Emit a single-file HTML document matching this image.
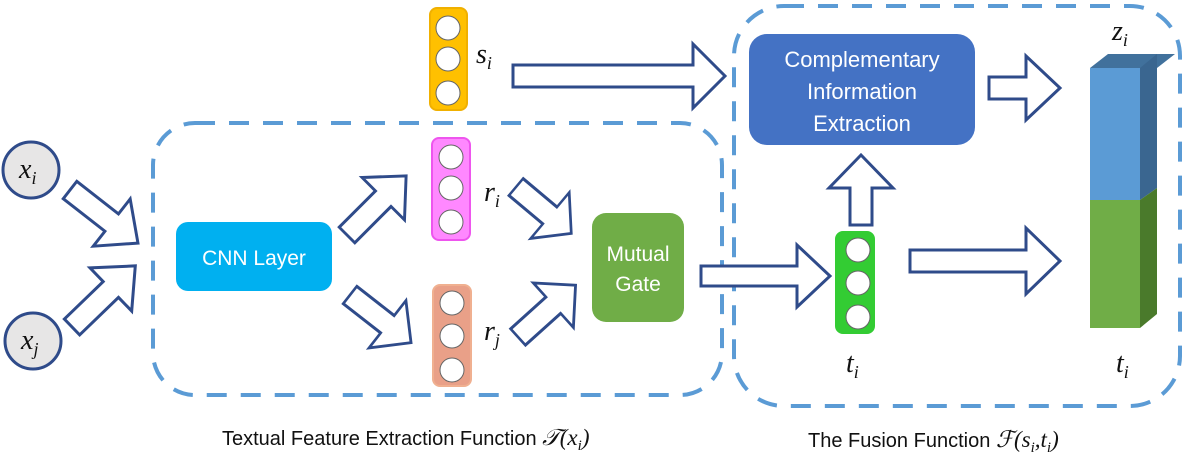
<!DOCTYPE html>
<html><head><meta charset="utf-8"><style>
body{margin:0;background:#fff}
svg{display:block}
.m{font-family:"Liberation Serif","DejaVu Serif",serif;font-style:italic;fill:#111}
.s{font-family:"Liberation Sans","DejaVu Sans",sans-serif}
</style></head><body>
<svg width="1193" height="455" viewBox="0 0 1193 455" xmlns="http://www.w3.org/2000/svg">
<defs>
<path id="d" d="M0,-11 L54,-11 L54,-30 L88,0 L54,30 L54,11 L0,11 Z"/>
</defs>
<rect x="153" y="123" width="569" height="272" rx="42" fill="none" stroke="#5b9bd5" stroke-width="4" stroke-dasharray="20,14"/>
<rect x="734" y="6" width="446" height="400" rx="50" fill="none" stroke="#5b9bd5" stroke-width="4" stroke-dasharray="20,14"/>

<circle cx="31" cy="170" r="28" fill="#e7e6e6" stroke="#2f4b8a" stroke-width="3"/>
<circle cx="33" cy="341" r="28" fill="#e7e6e6" stroke="#2f4b8a" stroke-width="3"/>
<text class="m" x="19" y="178" font-size="28">x<tspan font-size="18" dy="6">i</tspan></text>
<text class="m" x="21" y="349" font-size="28">x<tspan font-size="18" dy="6">j</tspan></text>

<g fill="#fff" stroke="#2f4b8a" stroke-width="3" stroke-linejoin="miter">
<use href="#d" transform="translate(70,190) rotate(38) scale(0.98,1)"/>
<use href="#d" transform="translate(72,327) rotate(-44) scale(1,1)"/>
<use href="#d" transform="translate(347,235) rotate(-45) scale(0.95,1)"/>
<use href="#d" transform="translate(350,295) rotate(38) scale(0.88,1)"/>
<use href="#d" transform="translate(516,187) rotate(40) scale(0.82,1)"/>
<use href="#d" transform="translate(518,337) rotate(-42) scale(0.88,1)"/>
<path d="M513,65 L693,65 L693,44 L725,76 L693,108 L693,87 L513,87 Z"/>
<path d="M701,266 L797,266 L797,245 L830,276 L797,307 L797,286 L701,286 Z"/>
<path d="M910,250 L1026,250 L1026,228 L1060,261 L1026,294 L1026,272 L910,272 Z"/>
<path d="M989,77 L1026,77 L1026,56 L1060,88 L1026,120 L1026,99 L989,99 Z"/>
<path d="M850,225 L850,188 L829,188 L861,155 L893,188 L872,188 L872,225 Z"/>
</g>

<rect x="176" y="222" width="156" height="69" rx="12" fill="#00b0f0"/>
<text class="s" x="254" y="265" font-size="21" fill="#fff" text-anchor="middle">CNN Layer</text>

<g stroke-width="2">
<rect x="430" y="8" width="37" height="102" rx="7" fill="#ffc000" stroke="#f0b000"/>
<rect x="432" y="138" width="38" height="102" rx="7" fill="#ff88ff" stroke="#ee55ee"/>
<rect x="433" y="285" width="38" height="101" rx="7" fill="#e9a088" stroke="#f0b090"/>
<rect x="836" y="232" width="38" height="101" rx="7" fill="#33cc33" stroke="#33cc33"/>
</g>
<g fill="#fff" stroke="#666" stroke-width="1">
<circle cx="448" cy="28" r="12"/><circle cx="448" cy="59" r="12"/><circle cx="448" cy="93" r="12"/>
<circle cx="451" cy="157" r="12"/><circle cx="451" cy="188" r="12"/><circle cx="451" cy="222" r="12"/>
<circle cx="452" cy="303" r="12"/><circle cx="452" cy="336" r="12"/><circle cx="452" cy="370" r="12"/>
<circle cx="858" cy="250" r="12"/><circle cx="858" cy="283" r="12"/><circle cx="858" cy="317" r="12"/>
</g>
<text class="m" x="476" y="63" font-size="28">s<tspan font-size="18" dy="6">i</tspan></text>
<text class="m" x="484" y="201" font-size="28">r<tspan font-size="18" dy="6">i</tspan></text>
<text class="m" x="484" y="340" font-size="28">r<tspan font-size="18" dy="6">j</tspan></text>
<text class="m" x="846" y="372" font-size="28">t<tspan font-size="18" dy="6">i</tspan></text>

<rect x="592" y="213" width="92" height="109" rx="14" fill="#70ad47"/>
<text class="s" x="638" y="261" font-size="21" fill="#fff" text-anchor="middle">Mutual</text>
<text class="s" x="638" y="291" font-size="21" fill="#fff" text-anchor="middle">Gate</text>

<rect x="749" y="34" width="226" height="111" rx="18" fill="#4472c4"/>
<g class="s" font-size="22" fill="#fff" text-anchor="middle">
<text x="862" y="67">Complementary</text>
<text x="862" y="99">Information</text>
<text x="862" y="131">Extraction</text>
</g>

<polygon points="1090,68 1108,54 1175,54 1157,68" fill="#41719c"/>
<polygon points="1140,68 1157,54 1157,188 1140,200" fill="#3a6690"/>
<polygon points="1140,200 1157,188 1157,314 1140,328" fill="#4a7a2b"/>
<rect x="1090" y="68" width="50" height="132" fill="#5b9bd5"/>
<rect x="1090" y="200" width="50" height="128" fill="#70ad47"/>
<text class="m" x="1112" y="40" font-size="28">z<tspan font-size="18" dy="6">i</tspan></text>
<text class="m" x="1116" y="372" font-size="28">t<tspan font-size="18" dy="6">i</tspan></text>

<text class="s" x="222" y="445" font-size="20" fill="#111">Textual Feature Extraction Function <tspan class="m" font-size="23">𝒯(x<tspan font-size="15" dy="5">i</tspan><tspan dy="-5">)</tspan></tspan></text>
<text class="s" x="808" y="447" font-size="20" fill="#111">The Fusion Function <tspan class="m" font-size="23">ℱ(s<tspan font-size="15" dy="5">i</tspan><tspan dy="-5">,t</tspan><tspan font-size="15" dy="5">i</tspan><tspan dy="-5">)</tspan></tspan></text>
</svg>
</body></html>
